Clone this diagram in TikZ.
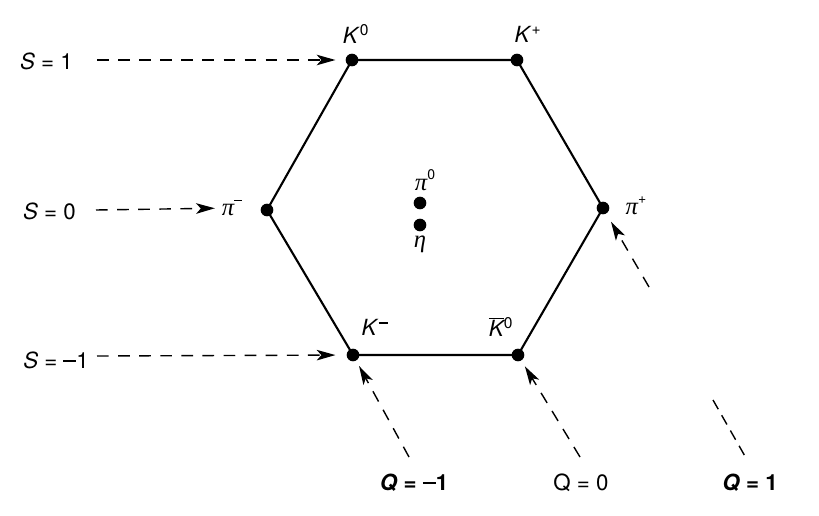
\documentclass[tikz,border=0pt]{standalone}
\usepackage{fontspec}
\setmainfont{TeX Gyre Heros}
\newfontfamily\grkfont{Liberation Serif}
\usetikzlibrary{arrows.meta}
\newcommand{\mymns}{\raisebox{0.27em}{\rule{0.58em}{0.09em}}}
\newcommand{\grk}[1]{{\grkfont\itshape #1}}
\newcommand{\smsup}[1]{\raisebox{0.45em}{\fontsize{12}{14}\selectfont #1}}
\begin{document}
\begin{tikzpicture}[x=0.03cm,y=-0.03cm,
  dot/.style={circle,fill=black,inner sep=0pt,minimum size=0.38cm},
  hexline/.style={line width=1.8pt,line join=round},
  dasharrow/.style={line width=1.2pt,dash pattern=on 10pt off 8pt,-{Stealth[length=16pt,width=9pt,inset=4pt]}},
  dashplain/.style={line width=1.2pt,dash pattern=on 9pt off 6pt},
  lab/.style={inner sep=0pt,font=\fontsize{19}{22}\selectfont},
  plab/.style={inner sep=0pt,font=\fontsize{21}{24}\selectfont}]
\useasboundingbox (0,0) rectangle (819,516);
% vertices
\node[dot] (k0)  at (352,60)  {};
\node[dot] (kp)  at (517,60)  {};
\node[dot] (pip) at (603,208) {};
\node[dot] (kb)  at (518,355) {};
\node[dot] (km)  at (353,355) {};
\node[dot] (pim) at (267,210) {};
\node[dot] (pi0) at (420,203) {};
\node[dot] (eta) at (420,225) {};
\draw[hexline] (k0.center) -- (kp.center) -- (pip.center) -- (kb.center) -- (km.center) -- (pim.center) -- cycle;
% particle labels
\node[lab] (k0lab) at (356,34) {\textit{K}\textsuperscript{0}};
\node[lab] (kplab) at (528,34) {\textit{K}\textsuperscript{+}};
\node[plab] (pimlab) at (232,208) {\grk{π}\smsup{\mymns}};
\node[plab] (piplab) at (636,206) {\grk{π}\smsup{+}};
\node[plab] (pi0lab) at (425,180) {\grk{π}\smsup{0}};
\node[plab] (etalab) at (420,244) {\grk{η}};
\node[lab] (kmlab) at (375,327) {\textit{K}\textsuperscript{\mymns}};
\node[lab] (kblab) at (501,327) {$\overline{\mbox{\itshape K}}$\textsuperscript{0}};
% S labels
\node[lab,anchor=base east] (s1)  at (73,70)  {\textit{S} = 1};
\node[lab,anchor=base east] (s0)  at (76,220) {\textit{S} = 0};
\node[lab,anchor=base east] (sm1) at (89,368) {\textit{S} = \mymns1};
% Q labels
\node[lab,anchor=base] (qm1) at (414,490) {\bfseries\textit{Q} = \mymns1};
\node[lab,anchor=base] (q0)  at (581,490) {Q = 0};
\node[lab,anchor=base] (q1)  at (750,490) {\bfseries\textit{Q} = 1};
% connector ends
\coordinate (s1e)  at (97,60);
\coordinate (s0e)  at (96,210);
\coordinate (sm1e) at (97,356);
\coordinate (qm1s) at (409,457);
\coordinate (q0s)  at (580,457);
\coordinate (q1s)  at (746,458);
\coordinate (q1m)  at (713,400);
\coordinate (q1u)  at (649,287);
% dashed arrows
\draw[dasharrow,shorten >=0.3cm] (s1e) -- (k0);
\draw[dasharrow,shorten >=0.2cm] (s0e) -- (pimlab);
\draw[dasharrow,shorten >=0.33cm] (sm1e) -- (km);
\draw[dasharrow,shorten >=0.18cm] (qm1s) -- (km);
\draw[dasharrow,shorten >=0.2cm] (q0s) -- (kb);
\draw[dashplain] (q1m) -- (q1s);
\draw[dasharrow,shorten >=0.28cm] (q1u) -- (pip);
\end{tikzpicture}
\end{document}
